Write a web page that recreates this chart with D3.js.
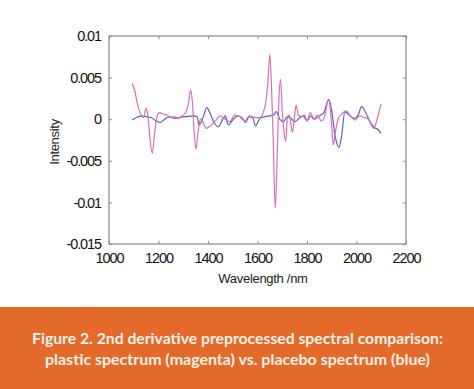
<!DOCTYPE html>
<html>
<head>
<meta charset="utf-8">
<script src="https://cdn.jsdelivr.net/npm/d3@7/dist/d3.min.js"></script>
<style>
  html, body { margin: 0; padding: 0; background: #fff; }
  svg { display: block; }
</style>
</head>
<body>
<svg id="chart" width="474" height="389"></svg>
<script>
// ---- data ----
const xTicks = [1000, 1200, 1400, 1600, 1800, 2000, 2200];
const yTicks = [0.01, 0.005, 0, -0.005, -0.01, -0.015];
const yTickLabels = ["0.01", "0.005", "0", "-0.005", "-0.01", "-0.015"];

const plasticWavelength = [1094,1105,1115,1128,1140,1150,1158,1166,1175,1184,1193,1205,1220,1235,1250,1265,1280,1295,1310,1320,1330,1337,1344,1351,1360,1370,1382,1392,1410,1430,1448,1465,1488,1508,1528,1548,1568,1590,1610,1622,1632,1641,1650,1657,1663,1672,1680,1686,1693,1700,1707,1714,1721,1728,1734,1741,1749,1756,1765,1778,1790,1800,1814,1828,1842,1858,1872,1886,1895,1900,1906,1915,1925,1940,1958,1975,1995,2012,2030,2045,2058,2070,2085,2099];
const plasticIntensity = [0.0043,0.0033,0.0018,0.0006,0.0002,0.0013,0.0002,-0.0025,-0.0041,-0.0018,0.0002,0.0008,0.0006,0.0005,0.0002,0.0003,0.0001,0.0004,0.0008,0.0018,0.0035,0.0020,-0.0015,-0.0036,-0.0015,0.0000,-0.0005,-0.0011,-0.0008,-0.0002,0.0004,0.0001,-0.0003,0.0005,0.0003,-0.0002,0.0004,0.0002,0.0002,0.0007,0.0018,0.0040,0.0078,0.0035,-0.0020,-0.0107,-0.0040,0.0020,0.0048,0.0010,-0.0015,-0.0027,0.0002,0.0005,-0.0004,-0.0016,0.0002,0.0017,0.0005,0.0003,0.0005,-0.0002,0.0008,0.0000,0.0005,-0.0002,0.0004,0.0023,0.0010,-0.0010,-0.0031,-0.0015,0.0000,0.0006,0.0010,0.0004,-0.0001,0.0004,0.0002,0.0001,-0.0006,-0.0011,0.0002,0.0018];

const placeboWavelength = [1094,1110,1130,1150,1170,1190,1206,1225,1245,1265,1285,1310,1340,1356,1364,1380,1395,1410,1425,1441,1460,1470,1482,1500,1520,1540,1552,1566,1580,1592,1610,1630,1650,1665,1676,1690,1705,1720,1735,1750,1768,1785,1800,1815,1830,1850,1868,1888,1900,1912,1929,1940,1953,1970,1990,2005,2021,2040,2058,2072,2085,2099];
const placeboIntensity = [-0.0001,0.0002,0.0004,0.0003,0.0002,-0.0002,-0.0004,0.0000,0.0003,0.0001,0.0002,0.0003,0.0004,0.0003,-0.0007,0.0002,0.0014,0.0006,-0.0004,-0.0009,0.0000,0.0004,-0.0007,-0.0001,0.0004,0.0001,-0.0004,0.0003,0.0002,-0.0008,0.0001,0.0003,0.0004,0.0005,0.0009,0.0000,-0.0003,0.0003,0.0001,-0.0003,0.0001,0.0004,-0.0002,0.0004,0.0000,0.0004,0.0008,0.0024,0.0010,-0.0017,-0.0034,-0.0020,0.0009,0.0005,0.0001,0.0004,0.0015,0.0006,-0.0005,-0.0010,-0.0012,-0.0017];

const xLabel = "Wavelength /nm";
const yLabel = "Intensity";
const captionLines = [
  "Figure 2. 2nd derivative preprocessed spectral comparison:",
  "plastic spectrum (magenta) vs. placebo spectrum (blue)"
];

(function draw() {
  const svg = d3.select("#chart");
  const pLeft = 109, pRight = 406, pTop = 36, pBottom = 244;
  const x = d3.scaleLinear().domain([1000, 2200]).range([pLeft, pRight]);
  const y = d3.scaleLinear().domain([-0.015, 0.01]).range([pBottom, pTop]);

  const axisColor = "#8a8a8a";
  const tickFont = "'Liberation Sans', Arial, sans-serif";

  svg.append("rect")
    .attr("x", pLeft).attr("y", pTop)
    .attr("width", pRight - pLeft).attr("height", pBottom - pTop)
    .attr("fill", "none").attr("stroke", axisColor).attr("stroke-width", 1.2);

  function styleAxis(g) {
    g.select(".domain").remove();
    g.selectAll(".tick line").attr("stroke", axisColor).attr("stroke-width", 1);
  }
  svg.append("g").attr("transform", `translate(0,${pBottom})`)
    .call(d3.axisBottom(x).tickValues(xTicks).tickSize(-3).tickPadding(9).tickFormat(d3.format("d")))
    .call(styleAxis)
    .call(g => g.selectAll("text").attr("font-family", tickFont).attr("font-size", 14.5)
      .attr("fill", "#111").attr("letter-spacing", "-1.1px"));
  svg.append("g").attr("transform", `translate(0,${pTop})`)
    .call(d3.axisTop(x).tickValues(xTicks).tickSize(-3).tickFormat(""))
    .call(styleAxis);
  svg.append("g").attr("transform", `translate(${pLeft},0)`)
    .call(d3.axisLeft(y).tickValues(yTicks).tickSize(-3).tickPadding(8)
      .tickFormat((d, i) => yTickLabels[i]))
    .call(styleAxis)
    .call(g => g.selectAll("text").attr("font-family", tickFont).attr("font-size", 14.5)
      .attr("fill", "#111").attr("letter-spacing", "-1.1px"));
  svg.append("g").attr("transform", `translate(${pRight},0)`)
    .call(d3.axisRight(y).tickValues(yTicks).tickSize(-3).tickFormat(""))
    .call(styleAxis);

  const line = d3.line().curve(d3.curveMonotoneX)
    .x(d => x(d[0])).y(d => y(d[1]));
  const plastic = plasticWavelength.map((w, i) => [w, plasticIntensity[i]]);
  const placebo = placeboWavelength.map((w, i) => [w, placeboIntensity[i]]);

  svg.append("path").datum(placebo).attr("d", line)
    .attr("fill", "none").attr("stroke", "#5d5fbe").attr("stroke-width", 1.2);
  svg.append("path").datum(plastic).attr("d", line)
    .attr("fill", "none").attr("stroke", "#d670b9").attr("stroke-width", 1.2);

  svg.append("text")
    .attr("x", 263).attr("y", 283)
    .attr("text-anchor", "middle")
    .attr("font-family", tickFont).attr("font-size", 13)
    .attr("fill", "#222").attr("letter-spacing", "-0.3px")
    .text(xLabel);
  svg.append("text")
    .attr("transform", "translate(59,142) rotate(-90)")
    .attr("text-anchor", "middle")
    .attr("font-family", tickFont).attr("font-size", 13)
    .attr("fill", "#222").attr("letter-spacing", "-0.3px")
    .text(yLabel);

  svg.append("rect")
    .attr("x", 0).attr("y", 307).attr("width", 474).attr("height", 82)
    .attr("fill", "#e36a2b");
  const capWidths = [411, 385];
  captionLines.forEach((t, i) => {
    svg.append("text")
      .attr("x", 237.5).attr("y", 344 + i * 21)
      .attr("text-anchor", "middle")
      .attr("font-family", "Lato, 'Open Sans', sans-serif")
      .attr("font-weight", "bold").attr("font-size", 15)
      .attr("fill", "#fdf1e8")
      .attr("textLength", capWidths[i]).attr("lengthAdjust", "spacingAndGlyphs")
      .text(t);
  });
})();
</script>
</body>
</html>
